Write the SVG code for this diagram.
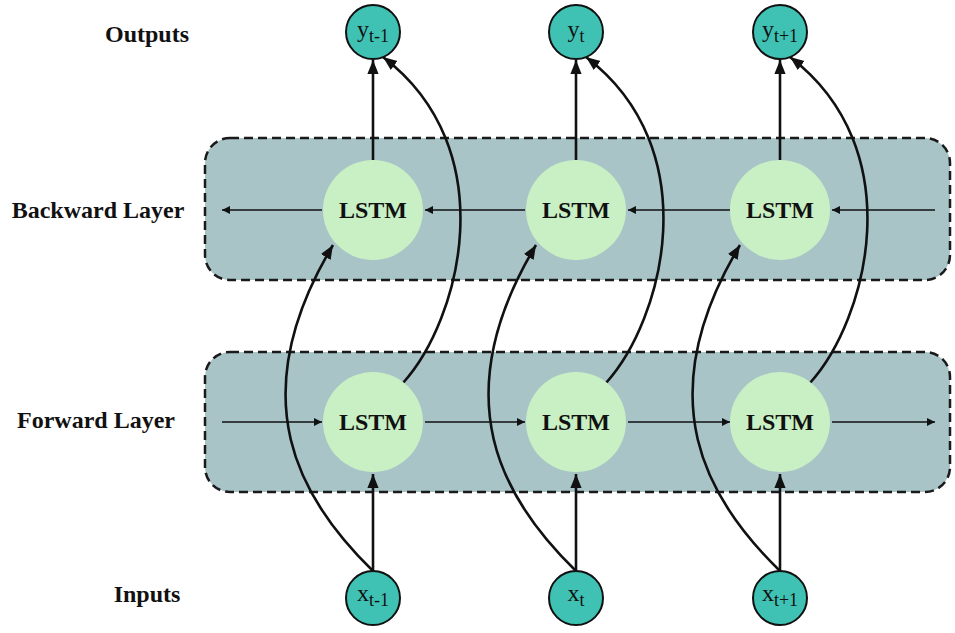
<svg xmlns="http://www.w3.org/2000/svg" width="955" height="633" viewBox="0 0 955 633">
<style>
.box{fill:#a9c4c7;stroke:#1a1a1a;stroke-width:2.5;stroke-dasharray:9 5}
.lstm{fill:#c8f0c4}
.io{fill:#3fc2b3;stroke:#111;stroke-width:2}
.lt{font-family:"Liberation Serif",serif;font-weight:bold;font-size:24px;fill:#111;text-anchor:middle}
.lab{font-family:"Liberation Serif",serif;font-weight:bold;font-size:24px;fill:#111;text-anchor:middle}
.v{font-family:"Liberation Serif",serif;font-size:24px;fill:#111}
.s{font-size:18px}
.thin{stroke:#111;stroke-width:1.6;fill:none;marker-end:url(#a)}
.thick{stroke:#111;stroke-width:2.6;fill:none;marker-end:url(#b)}
</style>
<defs>
<marker id="a" viewBox="0 0 10 10" refX="10" refY="5" markerWidth="8" markerHeight="8" markerUnits="userSpaceOnUse" orient="auto"><path d="M0,0L10,5L0,10z" fill="#111"/></marker>
<marker id="b" viewBox="0 0 10 10" refX="10" refY="5" markerWidth="14" markerHeight="14" markerUnits="userSpaceOnUse" orient="auto"><path d="M0,1L10,5L0,9z" fill="#111"/></marker>
</defs>
<rect class="box" x="205" y="138" width="745" height="142" rx="25"/>
<rect class="box" x="205" y="352" width="745" height="140" rx="25"/>
<g class="lab">
<text x="147" y="42">Outputs</text>
<text x="98" y="218">Backward Layer</text>
<text x="96" y="428">Forward Layer</text>
<text x="147" y="602">Inputs</text>
</g>
<g id="connectors">
<path class="thin" d="M935,210H832"/><path class="thin" d="M730,210H628"/><path class="thin" d="M525,210H425"/><path class="thin" d="M322,210H222"/>
<path class="thin" d="M222,422H322"/><path class="thin" d="M425,422H525"/><path class="thin" d="M628,422H730"/><path class="thin" d="M832,422H935"/>
<path class="thick" d="M373,160V60"/><path class="thick" d="M576,160V60"/><path class="thick" d="M780,160V60"/>
<path class="thick" d="M373,571V474"/><path class="thick" d="M576,571V474"/><path class="thick" d="M780,571V474"/>
<path class="thick" d="M373,571C300,500 240,400 333,245"/>
<path class="thick" d="M576,571C503,500 443,400 536,245"/>
<path class="thick" d="M780,571C707,500 647,400 740,245"/>
<path class="thick" d="M403,383C460,320 505,150 383,57"/>
<path class="thick" d="M606,383C663,320 708,150 586,57"/>
<path class="thick" d="M810,383C867,320 912,150 790,57"/>
</g>
<g id="b1"><circle class="lstm" cx="373" cy="210" r="50"/><text class="lt" x="373" y="218">LSTM</text></g>
<g id="b2"><circle class="lstm" cx="576" cy="210" r="50"/><text class="lt" x="576" y="218">LSTM</text></g>
<g id="b3"><circle class="lstm" cx="780" cy="210" r="50"/><text class="lt" x="780" y="218">LSTM</text></g>
<g id="f1"><circle class="lstm" cx="373" cy="422" r="50"/><text class="lt" x="373" y="430">LSTM</text></g>
<g id="f2"><circle class="lstm" cx="576" cy="422" r="50"/><text class="lt" x="576" y="430">LSTM</text></g>
<g id="f3"><circle class="lstm" cx="780" cy="422" r="50"/><text class="lt" x="780" y="430">LSTM</text></g>
<g id="y1"><circle class="io" cx="373" cy="32" r="27"/><text class="v" x="373" y="37" text-anchor="middle">y<tspan class="s" dy="5">t-1</tspan></text></g>
<g id="y2"><circle class="io" cx="576" cy="32" r="27"/><text class="v" x="576" y="37" text-anchor="middle">y<tspan class="s" dy="5">t</tspan></text></g>
<g id="y3"><circle class="io" cx="780" cy="32" r="27"/><text class="v" x="780" y="37" text-anchor="middle">y<tspan class="s" dy="5">t+1</tspan></text></g>
<g id="x1"><circle class="io" cx="373" cy="598" r="27"/><text class="v" x="373" y="601" text-anchor="middle">x<tspan class="s" dy="5">t-1</tspan></text></g>
<g id="x2"><circle class="io" cx="576" cy="598" r="27"/><text class="v" x="576" y="601" text-anchor="middle">x<tspan class="s" dy="5">t</tspan></text></g>
<g id="x3"><circle class="io" cx="780" cy="598" r="27"/><text class="v" x="780" y="601" text-anchor="middle">x<tspan class="s" dy="5">t+1</tspan></text></g>
</svg>
